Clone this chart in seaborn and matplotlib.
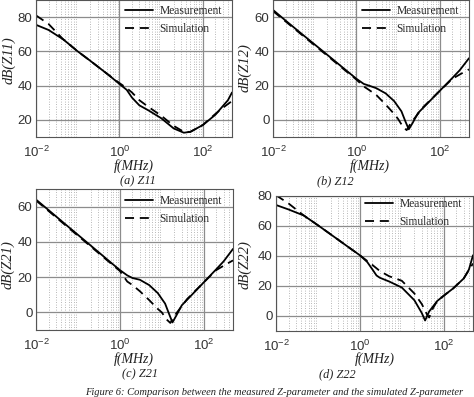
import numpy as np
import pandas as pd
import matplotlib
matplotlib.use("Agg")
import matplotlib.pyplot as plt
import matplotlib.ticker as mticker
from matplotlib.lines import Line2D
import seaborn as sns

# ---------------- data ----------------
z11_meas_f = [0.01, 0.02, 0.045, 0.1, 0.2, 0.5, 1, 1.5, 2, 3, 5, 10, 20, 35, 50, 100, 200, 300, 400, 500]
z11_meas_v = [75.5, 72.5, 67, 60, 54.5, 47, 41, 37.5, 33, 28.5, 25.5, 21, 15, 12.5, 13, 17, 23, 28, 31.5, 36]
z11_sim_f = [0.01, 0.02, 0.045, 0.1, 0.2, 0.5, 1, 1.5, 2, 3, 5, 10, 20, 35, 50, 100, 200, 300, 500]
z11_sim_v = [81, 76, 67, 60, 54.5, 47, 41.5, 38.5, 36, 31.5, 27.5, 22.5, 16.5, 13, 13, 17, 23.5, 27, 31]

z12_meas_f = [0.01, 0.02, 0.05, 0.1, 0.2, 0.5, 1, 1.5, 2, 3, 5, 8, 12, 15, 18, 22, 30, 50, 100, 200, 300, 500]
z12_meas_v = [64.2, 58, 50, 44, 38, 30, 24, 21, 20, 18.5, 15.5, 11, 5, -1, -5.5, -2, 4, 9.5, 17, 24.5, 29, 36]
z12_sim_f = [0.01, 0.02, 0.05, 0.1, 0.2, 0.5, 1, 1.5, 2, 3, 5, 8, 10, 13, 16, 20, 26, 40, 100, 200, 300, 500]
z12_sim_v = [63.5, 57.5, 49.5, 43.5, 37.5, 29.5, 23.5, 19.5, 17.5, 14.5, 9, 3.5, 0.5, -4, -6, -2, 1.6, 7.5, 17, 24, 26.5, 29.5]

z21_meas_f = [0.01, 0.02, 0.05, 0.1, 0.2, 0.5, 1, 1.5, 2, 3, 5, 8, 12, 15, 18, 22, 30, 50, 100, 200, 300, 500]
z21_meas_v = [64, 58, 50, 44, 38, 30, 24, 21, 19.5, 18.5, 15.5, 11, 5, -1, -5.7, -2, 4, 9.5, 17, 24.5, 29, 36]
z21_sim_f = [0.01, 0.02, 0.05, 0.1, 0.2, 0.5, 1, 1.5, 2, 3, 5, 8, 10, 13, 16, 20, 26, 40, 100, 200, 300, 500]
z21_sim_v = [63.5, 57.5, 49.5, 43.5, 37.5, 29.5, 23.5, 17.5, 15.5, 12, 7, 2, 0, -4, -6, -2, 1.6, 7.5, 17, 24, 26.5, 29.5]

z22_meas_f = [0.01, 0.02, 0.046, 0.1, 0.2, 0.5, 1, 1.5, 2, 2.5, 3, 5, 10, 20, 30, 36, 45, 70, 100, 170, 300, 400, 500]
z22_meas_v = [74, 71, 67, 60.5, 54.5, 46.5, 40.5, 36, 31, 27, 25.5, 23, 19, 10.5, 2, -3, 3, 10, 13.5, 18.5, 25, 31, 40.5]
z22_sim_f = [0.01, 0.02, 0.046, 0.1, 0.2, 0.5, 1, 2, 3, 5, 10, 20, 30, 40, 45, 55, 70, 100, 170, 300, 500]
z22_sim_v = [80.5, 75, 67, 60.5, 54.5, 46.5, 40.5, 34, 30, 26.5, 23.5, 15, 8, 1, -1, 5, 10, 13.5, 18.5, 25, 35]

panel_names = ["Z11", "Z12", "Z21", "Z22"]
panel_titles = ["(a) Z11", "(b) Z12", "(c) Z21", "(d) Z22"]
series_names = ["Measurement", "Simulation"]
y_limits = [(10, 90), (-10, 70), (-10, 70), (-10, 80)]
y_ticks = [[20, 40, 60, 80], [0, 20, 40, 60], [0, 20, 40, 60], [0, 20, 40, 60, 80]]
caption = "Figure 6: Comparison between the measured Z-parameter and the simulated Z-parameter"

raw = {
    "Z11": [(z11_meas_f, z11_meas_v), (z11_sim_f, z11_sim_v)],
    "Z12": [(z12_meas_f, z12_meas_v), (z12_sim_f, z12_sim_v)],
    "Z21": [(z21_meas_f, z21_meas_v), (z21_sim_f, z21_sim_v)],
    "Z22": [(z22_meas_f, z22_meas_v), (z22_sim_f, z22_sim_v)],
}
rows = []
for p in panel_names:
    for s, (fs, vs) in zip(series_names, raw[p]):
        for f, v in zip(fs, vs):
            rows.append({"panel": p, "series": s, "f": f, "dB": v})
df = pd.DataFrame(rows)

# ---------------- style ----------------
sns.set_theme(style="white")
plt.rcParams["font.family"] = ["Liberation Sans", "DejaVu Sans"]
plt.rcParams["mathtext.fontset"] = "custom"
plt.rcParams["mathtext.rm"] = "Liberation Sans"
plt.rcParams["mathtext.it"] = "Liberation Sans:italic"
plt.rcParams["mathtext.default"] = "regular"

W, H = 474, 397
fig = plt.figure(figsize=(W / 100, H / 100), dpi=100)
fig.patch.set_facecolor("white")

def px_axes(l, t, r, b):
    return [l / W, 1 - b / H, (r - l) / W, (b - t) / H]

boxes = [(36, 0, 232, 137), (273, 0, 469, 137), (36, 189, 233, 330), (276, 196, 473, 331)]
xlab_pos = [(134, 166), (370, 166), (134, 359), (375, 359)]
title_pos = [(138, 181), (335, 181), (140, 374), (337, 374)]
ylab_pos = [(9, 60), (245, 68), (8, 265), (245, 265)]
legend_top = [2, 2, 192, 195]

serif = ["Liberation Serif", "DejaVu Serif"]
DASH = (5.0, 3.2)

for i, p in enumerate(panel_names):
    l, t, r, b = boxes[i]
    ax = fig.add_axes(px_axes(l, t, r, b))
    sub = df[df["panel"] == p]
    sns.lineplot(data=sub, x="f", y="dB", style="series",
                 style_order=series_names,
                 dashes={"Measurement": "", "Simulation": DASH},
                 color="black", linewidth=1.3, ax=ax, legend=False,
                 estimator=None, sort=False)
    ax.set_xscale("log")
    ax.set_xlim(0.01, 500)
    ax.set_ylim(*y_limits[i])
    ax.set_yticks(y_ticks[i])
    ax.set_xticks([0.01, 1, 100])
    ax.xaxis.set_minor_locator(mticker.LogLocator(base=10, subs=np.arange(2, 10), numticks=20))
    ax.xaxis.set_minor_formatter(mticker.NullFormatter())
    ax.xaxis.set_major_formatter(mticker.LogFormatterSciNotation())
    ax.grid(True, which="major", axis="both", color="#8c8c8c", linewidth=0.9, linestyle="-")
    ax.grid(True, which="minor", axis="x", color="#a0a0a0", linewidth=0.6, linestyle=(0, (1, 2)))
    ax.set_axisbelow(True)
    ax.tick_params(axis="both", which="major", direction="in", length=3, width=0.6,
                   labelsize=9.5, colors="#333333", labelcolor="#333333", pad=2.5)
    ax.tick_params(axis="x", which="major", pad=5.5)
    ax.tick_params(axis="both", which="minor", direction="in", length=1.5, width=0.4, colors="#555555")
    for sp in ax.spines.values():
        sp.set_color("#555555")
        sp.set_linewidth(0.8)
    ax.set_xlabel("")
    ax.set_ylabel("")
    # legend (no frame), placed in pixels
    handles = [Line2D([], [], color="black", lw=1.3, linestyle="-"),
               Line2D([], [], color="black", lw=1.3, dashes=DASH)]
    ax.legend(handles, series_names, loc="upper left",
              bbox_to_anchor=((l + 86) / W, 1 - legend_top[i] / H),
              bbox_transform=fig.transFigure, frameon=False,
              prop={"family": serif, "size": 8.3}, handlelength=2.4,
              handletextpad=0.55, labelspacing=0.45, borderaxespad=0, borderpad=0.3)

    fig.text(xlab_pos[i][0] / W, 1 - xlab_pos[i][1] / H, "f(MHz)", ha="center", va="center",
             family=serif, style="italic", fontsize=10, color="#222222")
    fig.text(title_pos[i][0] / W, 1 - title_pos[i][1] / H, panel_titles[i], ha="center", va="center",
             family=serif, style="italic", fontsize=8.8, color="#222222")
    fig.text(ylab_pos[i][0] / W, 1 - ylab_pos[i][1] / H, "dB(" + p + ")", ha="center", va="center",
             rotation=90, family=serif, style="italic", fontsize=10.5, color="#222222")

fig.text(85 / W, 0.0, caption, ha="left", va="bottom",
         family=serif, style="italic", fontsize=7.6, color="#222222")

fig.savefig("out.png", dpi=100, facecolor="white")
